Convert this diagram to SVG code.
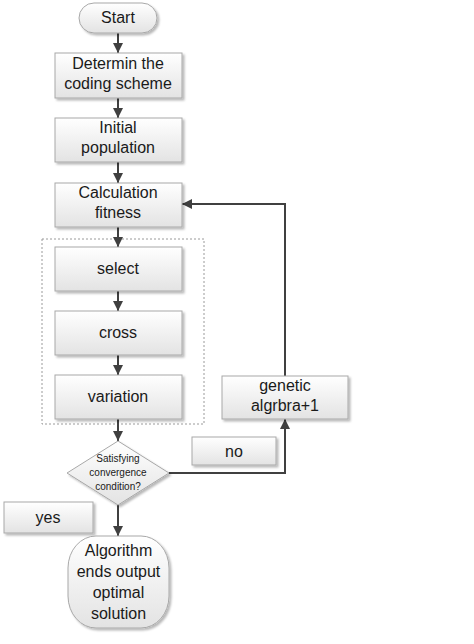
<svg xmlns="http://www.w3.org/2000/svg" width="474" height="644" viewBox="0 0 474 644">
<defs>
<linearGradient id="g" x1="0" y1="0" x2="0" y2="1">
<stop offset="0" stop-color="#ffffff"/>
<stop offset="1" stop-color="#e3e3e3"/>
</linearGradient>
<filter id="sh" x="-10%" y="-10%" width="130%" height="130%">
<feDropShadow dx="2" dy="2" stdDeviation="0.8" flood-color="#000" flood-opacity="0.28"/>
</filter>
<marker id="ah" viewBox="0 0 10 10" refX="10" refY="5" markerWidth="10" markerHeight="10" markerUnits="userSpaceOnUse" orient="auto">
<path d="M0,0 L10,5 L0,10 z" fill="#404040"/>
</marker>
</defs>
<style>
.box{fill:url(#g);stroke:#a8a8a8;stroke-width:1;filter:url(#sh)}
.t{font-family:"Liberation Sans",Arial,sans-serif;font-size:16px;fill:#1a1a1a;text-anchor:middle}
.s{font-family:"Liberation Sans",Arial,sans-serif;font-size:10px;fill:#1a1a1a;text-anchor:middle}
.c{fill:none;stroke:#404040;stroke-width:2}
</style>
<rect x="0" y="0" width="474" height="644" fill="#ffffff"/>
<g id="group-ga">
<rect x="42" y="239" width="162" height="185" fill="none" stroke="#9a9a9a" stroke-width="1" stroke-dasharray="2 2"/>
</g>
<g id="connectors">
<line class="c" x1="118" y1="33" x2="118" y2="53" marker-end="url(#ah)"/>
<line class="c" x1="118" y1="98" x2="118" y2="118" marker-end="url(#ah)"/>
<line class="c" x1="118" y1="162" x2="118" y2="183" marker-end="url(#ah)"/>
<line class="c" x1="118" y1="227" x2="118" y2="247" marker-end="url(#ah)"/>
<line class="c" x1="118" y1="291" x2="118" y2="311" marker-end="url(#ah)"/>
<line class="c" x1="118" y1="355" x2="118" y2="375" marker-end="url(#ah)"/>
<line class="c" x1="118" y1="419" x2="118" y2="441" marker-end="url(#ah)"/>
<line class="c" x1="118" y1="505" x2="118" y2="536" marker-end="url(#ah)"/>
<polyline class="c" points="169,473 285,473 285,419" marker-end="url(#ah)"/>
<polyline class="c" points="285,376 285,204 182,204" marker-end="url(#ah)"/>
</g>
<g id="start">
<rect class="box" x="79" y="3" width="78" height="30" rx="15" ry="15"/>
<text class="t" x="118" y="23">Start</text>
</g>
<g id="coding">
<rect class="box" x="55" y="53" width="127" height="45"/>
<text class="t" x="118" y="69">Determin the</text>
<text class="t" x="118" y="89">coding scheme</text>
</g>
<g id="init">
<rect class="box" x="55" y="118" width="127" height="44"/>
<text class="t" x="118" y="133">Initial</text>
<text class="t" x="118" y="153">population</text>
</g>
<g id="fitness">
<rect class="box" x="55" y="183" width="127" height="44"/>
<text class="t" x="118" y="198">Calculation</text>
<text class="t" x="118" y="218">fitness</text>
</g>
<g id="select">
<rect class="box" x="55" y="247" width="127" height="44"/>
<text class="t" x="118" y="274">select</text>
</g>
<g id="cross">
<rect class="box" x="55" y="311" width="127" height="44"/>
<text class="t" x="118" y="338">cross</text>
</g>
<g id="variation">
<rect class="box" x="55" y="375" width="127" height="44"/>
<text class="t" x="118" y="402">variation</text>
</g>
<g id="genetic">
<rect class="box" x="222" y="376" width="126" height="43"/>
<text class="t" x="285" y="391">genetic</text>
<text class="t" x="285" y="411">algrbra+1</text>
</g>
<g id="decision">
<polygon class="box" points="118,441 169,473 118,505 67,473"/>
<text class="s" x="118" y="462">Satisfying</text>
<text class="s" x="118" y="476">convergence</text>
<text class="s" x="118" y="490">condition?</text>
</g>
<g id="no">
<rect class="box" x="192" y="437" width="84" height="28"/>
<text class="t" x="234" y="457">no</text>
</g>
<g id="yes">
<rect class="box" x="4" y="502" width="89" height="31"/>
<text class="t" x="48" y="523">yes</text>
</g>
<g id="end">
<rect class="box" x="68" y="536" width="101" height="92" rx="28" ry="32"/>
<text class="t" x="118.5" y="556">Algorithm</text>
<text class="t" x="118.5" y="577">ends output</text>
<text class="t" x="118.5" y="598">optimal</text>
<text class="t" x="118.5" y="619">solution</text>
</g>
</svg>
